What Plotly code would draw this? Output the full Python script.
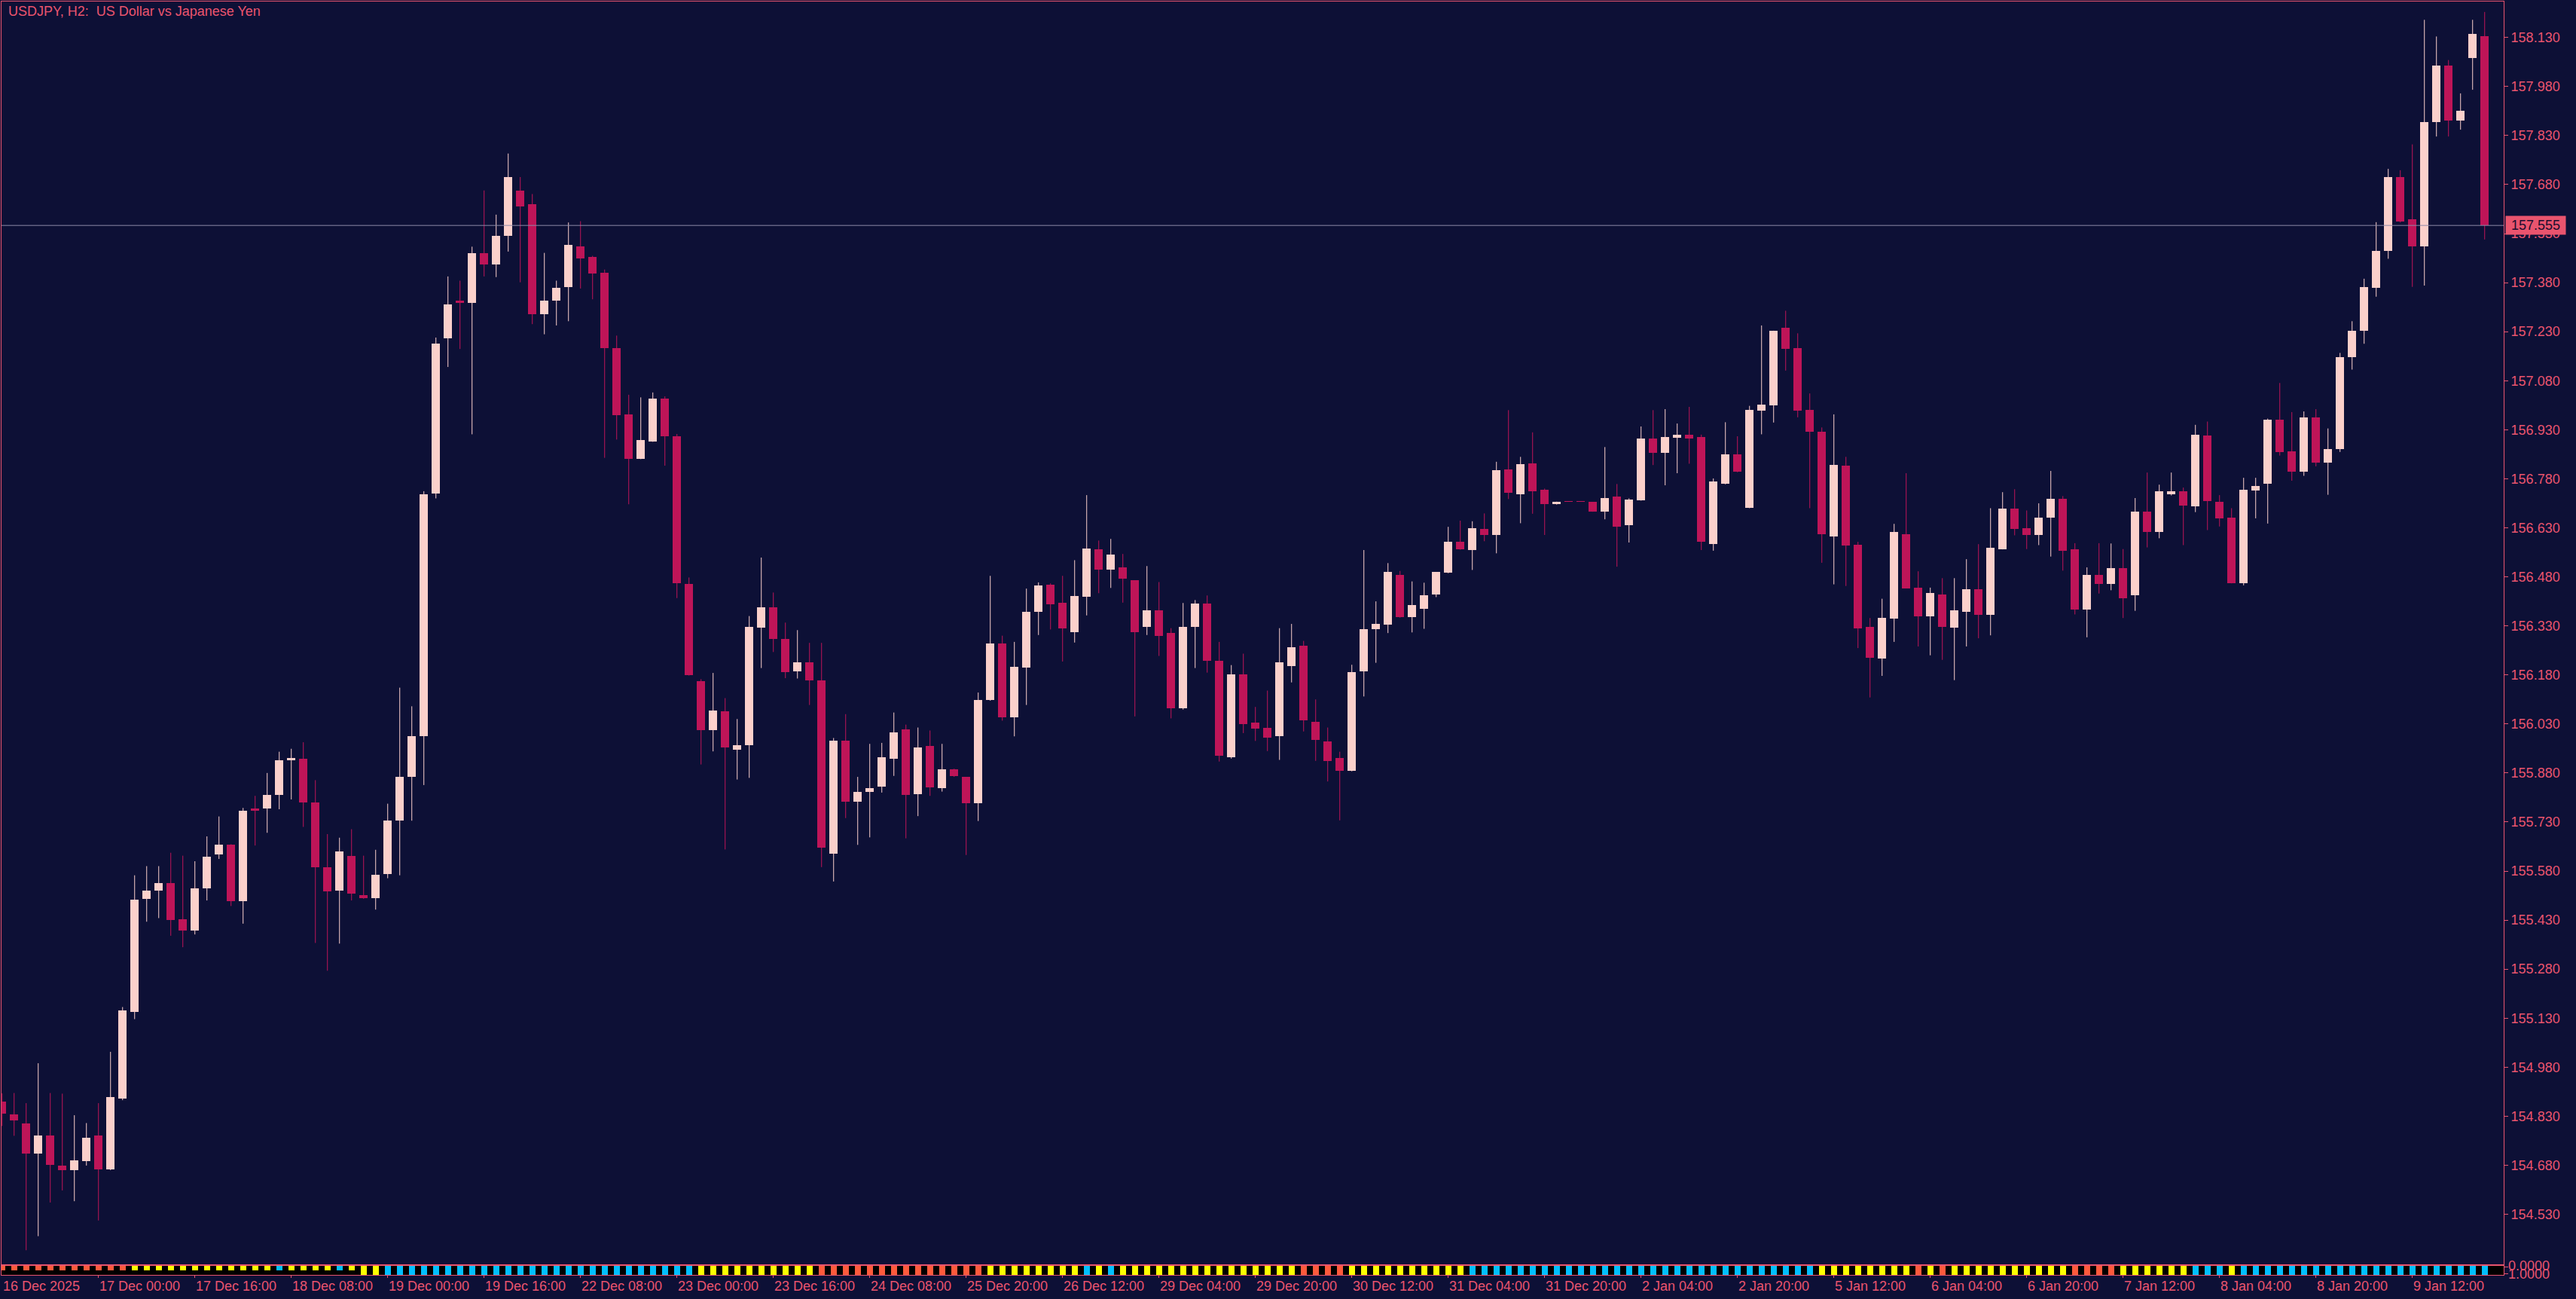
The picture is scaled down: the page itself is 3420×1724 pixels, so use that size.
import plotly.graph_objects as go

# ---------------- data ----------------
opens = [154.875, 154.835, 154.809, 154.716, 154.772, 154.679, 154.664, 154.692, 154.770, 154.668,
         154.885, 155.149, 155.495, 155.521, 155.543, 155.432, 155.399, 155.527, 155.630, 155.660,
         155.488, 155.771, 155.771, 155.812, 155.919, 155.924, 155.789, 155.591, 155.519, 155.627,
         155.506, 155.497, 155.571, 155.734, 155.869, 155.993, 156.735, 157.209, 157.325, 157.318,
         157.471, 157.436, 157.523, 157.662, 157.621, 157.283, 157.325, 157.366, 157.490, 157.458,
         157.410, 157.179, 156.977, 156.842, 156.895, 157.025, 156.909, 156.458, 156.160, 156.010,
         156.068, 155.952, 155.964, 156.325, 156.386, 156.291, 156.192, 156.218, 156.164, 155.632,
         155.978, 155.793, 155.823, 155.839, 155.924, 156.013, 155.816, 155.962, 155.834, 155.892,
         155.868, 155.787, 156.103, 156.276, 156.051, 156.203, 156.374, 156.455, 156.400, 156.311,
         156.418, 156.564, 156.501, 156.508, 156.469, 156.328, 156.377, 156.308, 156.079, 156.328,
         156.398, 156.224, 155.929, 156.181, 156.033, 156.018, 155.992, 156.206, 156.270, 156.037,
         155.976, 155.925, 155.887, 156.192, 156.319, 156.333, 156.485, 156.356, 156.382, 156.427,
         156.492, 156.587, 156.562, 156.626, 156.607, 156.808, 156.732, 156.828, 156.746, 156.702,
         156.709, 156.709, 156.709, 156.679, 156.725, 156.638, 156.714, 156.903, 156.859, 156.905,
         156.914, 156.907, 156.580, 156.764, 156.854, 156.691, 156.989, 157.005, 157.241, 157.179,
         156.990, 156.924, 156.604, 156.820, 156.577, 156.327, 156.230, 156.353, 156.610, 156.446,
         156.359, 156.427, 156.324, 156.374, 156.443, 156.364, 156.565, 156.689, 156.629, 156.607,
         156.662, 156.718, 156.565, 156.380, 156.486, 156.459, 156.506, 156.424, 156.679, 156.618,
         156.732, 156.742, 156.696, 156.912, 156.709, 156.661, 156.461, 156.745, 156.764, 156.961,
         156.864, 156.801, 156.967, 156.830, 156.870, 157.151, 157.233, 157.365, 157.476, 157.703,
         157.574, 157.490, 157.871, 158.045, 157.876, 158.067, 158.134]

highs = [154.900, 154.901, 154.870, 154.992, 154.901, 154.899, 154.833, 154.809, 154.870, 155.027,
         155.164, 155.567, 155.595, 155.595, 155.636, 155.627, 155.610, 155.686, 155.747, 155.662,
         155.773, 155.810, 155.880, 155.945, 155.954, 155.974, 155.858, 155.693, 155.682, 155.708,
         155.627, 155.645, 155.786, 156.141, 156.084, 156.742, 157.212, 157.399, 157.386, 157.490,
         157.662, 157.588, 157.775, 157.703, 157.651, 157.471, 157.386, 157.564, 157.568, 157.462,
         157.420, 157.218, 157.037, 157.029, 157.044, 157.032, 156.917, 156.478, 156.167, 156.186,
         156.109, 156.045, 156.360, 156.539, 156.432, 156.340, 156.317, 156.278, 156.278, 155.987,
         156.060, 155.868, 155.969, 155.972, 156.065, 156.028, 156.019, 156.010, 155.969, 155.893,
         155.868, 156.126, 156.483, 156.300, 156.281, 156.444, 156.463, 156.460, 156.483, 156.531,
         156.730, 156.591, 156.596, 156.550, 156.469, 156.513, 156.464, 156.323, 156.400, 156.409,
         156.423, 156.281, 156.210, 156.245, 156.082, 156.132, 156.323, 156.336, 156.284, 156.105,
         156.019, 155.945, 156.211, 156.562, 156.405, 156.522, 156.498, 156.466, 156.462, 156.495,
         156.633, 156.652, 156.650, 156.674, 156.832, 156.990, 156.847, 156.922, 156.750, 156.710,
         156.709, 156.709, 156.709, 156.877, 156.764, 156.720, 156.940, 156.990, 156.993, 156.949,
         157.000, 156.915, 156.781, 156.953, 156.910, 157.003, 157.249, 157.233, 157.294, 157.225,
         157.041, 156.937, 156.977, 156.847, 156.587, 156.354, 156.413, 156.642, 156.797, 156.497,
         156.447, 156.476, 156.476, 156.534, 156.580, 156.690, 156.739, 156.748, 156.683, 156.705,
         156.804, 156.727, 156.583, 156.509, 156.583, 156.582, 156.565, 156.721, 156.799, 156.762,
         156.799, 156.753, 156.945, 156.955, 156.730, 156.690, 156.783, 156.783, 156.964, 157.073,
         156.984, 156.986, 156.993, 156.934, 157.165, 157.262, 157.392, 157.565, 157.728, 157.724,
         157.803, 158.184, 158.133, 158.061, 157.959, 158.184, 158.208]

lows = [154.800, 154.770, 154.420, 154.463, 154.566, 154.603, 154.570, 154.679, 154.511, 154.665,
        154.879, 155.127, 155.425, 155.436, 155.382, 155.347, 155.386, 155.490, 155.617, 155.473,
        155.419, 155.658, 155.697, 155.769, 155.799, 155.715, 155.360, 155.275, 155.358, 155.490,
        155.495, 155.462, 155.558, 155.567, 155.734, 155.843, 156.720, 157.122, 157.177, 156.916,
        157.399, 157.397, 157.475, 157.381, 157.253, 157.222, 157.249, 157.262, 157.362, 157.329,
        156.844, 156.900, 156.702, 156.840, 156.893, 156.820, 156.415, 156.178, 155.906, 155.946,
        155.646, 155.860, 155.865, 156.201, 156.250, 156.170, 156.169, 156.088, 155.592, 155.548,
        155.742, 155.660, 155.683, 155.820, 155.871, 155.680, 155.748, 155.810, 155.823, 155.868,
        155.629, 155.733, 156.101, 156.040, 155.992, 156.088, 156.302, 156.319, 156.221, 156.279,
        156.362, 156.430, 156.446, 156.401, 156.053, 156.302, 156.238, 156.047, 156.074, 156.201,
        156.187, 155.915, 155.924, 156.002, 155.978, 155.947, 155.920, 156.157, 156.007, 155.917,
        155.854, 155.735, 155.885, 156.114, 156.217, 156.308, 156.355, 156.310, 156.321, 156.418,
        156.491, 156.563, 156.501, 156.589, 156.552, 156.718, 156.644, 156.673, 156.608, 156.701,
        156.709, 156.709, 156.679, 156.656, 156.511, 156.585, 156.713, 156.822, 156.760, 156.797,
        156.826, 156.562, 156.560, 156.763, 156.800, 156.690, 156.916, 156.952, 157.111, 156.968,
        156.690, 156.523, 156.457, 156.452, 156.262, 156.111, 156.177, 156.281, 156.445, 156.267,
        156.240, 156.226, 156.164, 156.267, 156.292, 156.301, 156.564, 156.607, 156.565, 156.577,
        156.542, 156.499, 156.365, 156.295, 156.429, 156.439, 156.354, 156.376, 156.570, 156.598,
        156.729, 156.577, 156.678, 156.623, 156.634, 156.460, 156.454, 156.659, 156.643, 156.851,
        156.774, 156.789, 156.818, 156.731, 156.862, 157.114, 157.193, 157.337, 157.453, 157.564,
        157.367, 157.371, 157.827, 157.827, 157.848, 157.970, 157.512]

closes = [154.838, 154.816, 154.716, 154.772, 154.681, 154.664, 154.694, 154.764, 154.668, 154.888,
          155.153, 155.493, 155.521, 155.543, 155.430, 155.399, 155.527, 155.623, 155.660, 155.488,
          155.765, 155.765, 155.812, 155.919, 155.926, 155.789, 155.591, 155.517, 155.641, 155.510,
          155.497, 155.569, 155.734, 155.869, 155.993, 156.733, 157.194, 157.314, 157.318, 157.471,
          157.436, 157.523, 157.703, 157.614, 157.283, 157.325, 157.364, 157.495, 157.455, 157.408,
          157.179, 156.974, 156.842, 156.898, 157.025, 156.909, 156.460, 156.180, 156.010, 156.070,
          155.959, 155.964, 156.328, 156.386, 156.291, 156.189, 156.218, 156.164, 155.652, 155.978,
          155.793, 155.823, 155.833, 155.927, 156.004, 155.814, 155.959, 155.837, 155.892, 155.871,
          155.787, 156.103, 156.276, 156.051, 156.204, 156.374, 156.453, 156.395, 156.323, 156.421,
          156.567, 156.502, 156.548, 156.475, 156.310, 156.377, 156.300, 156.079, 156.326, 156.398,
          156.224, 155.932, 156.181, 156.030, 156.016, 155.989, 156.218, 156.264, 156.042, 155.981,
          155.917, 155.887, 156.188, 156.321, 156.335, 156.495, 156.356, 156.393, 156.423, 156.495,
          156.587, 156.564, 156.628, 156.607, 156.806, 156.738, 156.824, 156.742, 156.702, 156.709,
          156.709, 156.709, 156.679, 156.720, 156.633, 156.716, 156.903, 156.859, 156.907, 156.914,
          156.903, 156.587, 156.771, 156.854, 156.801, 156.990, 157.006, 157.233, 157.177, 156.989,
          156.925, 156.611, 156.822, 156.576, 156.322, 156.232, 156.354, 156.617, 156.445, 156.359,
          156.430, 156.328, 156.377, 156.443, 156.364, 156.568, 156.689, 156.626, 156.607, 156.661,
          156.718, 156.559, 156.380, 156.486, 156.459, 156.506, 156.415, 156.679, 156.618, 156.742,
          156.742, 156.699, 156.914, 156.711, 156.659, 156.461, 156.746, 156.759, 156.961, 156.862,
          156.801, 156.967, 156.830, 156.870, 157.153, 157.233, 157.367, 157.477, 157.703, 157.567,
          157.490, 157.871, 158.045, 157.876, 157.906, 158.140, 157.555]

# indicator sub-window state per bar: R = red, Y = yellow, B = blue
strip_state = list(
    "RRRRRRRRRRR" "YYYYYYYYYYYY" "B" "YYYY" "B" "Y" "YY"
    "BBBBBBBBBBBBBBBBBBBBBBBBBB" "YYYYYYYYYY" "RRRRRRRRRRRRRR" "YYYYYYYY"
    "B" "Y" "B" "YYYYYYYYYYYYYYY" "RRRR" "YYYYYYYYYY"
    "BBBBBBBBBBBBBBBBBBBBBBBBBBBBB" "YYYYYYYY" "R" "Y" "R" "YYYYYYYYYY"
    "RRRR" "YYYYYY" "BBB" "Y" "BBBBBBBBBBBBBBBBBBBBB")
# first bars of the strip are only drawn in their upper half
strip_half = 30

x_label_pos = [0, 8, 16, 24, 32, 40, 48, 56, 64, 72, 80, 88, 96, 104, 112, 120, 128,
               136, 144, 152, 160, 168, 176, 184, 192, 200]
x_labels = ["16 Dec 2025", "17 Dec 00:00", "17 Dec 16:00", "18 Dec 08:00", "19 Dec 00:00",
            "19 Dec 16:00", "22 Dec 08:00", "23 Dec 00:00", "23 Dec 16:00", "24 Dec 08:00",
            "25 Dec 20:00", "26 Dec 12:00", "29 Dec 04:00", "29 Dec 20:00", "30 Dec 12:00",
            "31 Dec 04:00", "31 Dec 20:00", "2 Jan 04:00", "2 Jan 20:00", "5 Jan 12:00",
            "6 Jan 04:00", "6 Jan 20:00", "7 Jan 12:00", "8 Jan 04:00", "8 Jan 20:00",
            "9 Jan 12:00"]

y_ticks = [154.530, 154.680, 154.830, 154.980, 155.130, 155.280, 155.430, 155.580, 155.730,
           155.880, 156.030, 156.180, 156.330, 156.480, 156.630, 156.780, 156.930, 157.080,
           157.230, 157.380, 157.530, 157.680, 157.830, 157.980, 158.130]

last_price = 157.555
title_text = "USDJPY, H2:\u00a0 US Dollar vs Japanese Yen"

# ---------------- style ----------------
W, H = 3420, 1724
BG = "#0D1036"
FG = "#E9546E"
BULL = "#FBD0CB"
BEAR = "#BE1558"
STRIP_COL = {"R": "#FF5A3C", "Y": "#FFFF00", "B": "#00BFFF"}
FONT = "Liberation Sans"

ML, MR, MT, MB = 2, 96, 2, 32          # margins (px)
PLOT_H = H - MT - MB                     # 1690
MAIN_BOTTOM_PX = 1677.5
STRIP_TOP_PX = 1680


def paper_y(px):
    return (H - MB - px) / PLOT_H


n = len(opens)
idx = list(range(n))
is_bull = [c > o for o, c in zip(opens, closes)]

fig = go.Figure()

# wicks
for flag, col in ((True, BULL), (False, BEAR)):
    xs, ys = [], []
    for i in idx:
        if is_bull[i] == flag:
            xs += [i, i, None]
            ys += [lows[i], highs[i], None]
    fig.add_trace(go.Scatter(x=xs, y=ys, mode="lines", line=dict(color=col, width=1),
                             hoverinfo="skip", xaxis="x", yaxis="y"))

# bodies
body_base = [min(o, c) for o, c in zip(opens, closes)]
body_h = [max(abs(c - o), 0.0025) for o, c in zip(opens, closes)]
fig.add_trace(go.Bar(x=idx, y=body_h, base=body_base, width=0.68,
                     marker=dict(color=[BULL if b else BEAR for b in is_bull], line=dict(width=0)),
                     xaxis="x", yaxis="y", hoverinfo="skip"))

# indicator strip
strip_colors = [STRIP_COL[s] for s in strip_state]
strip_base = [0.5 if i < strip_half else 0.0 for i in idx]
strip_h = [0.5 if i < strip_half else 1.0 for i in idx]
fig.add_trace(go.Bar(x=idx, y=strip_h, base=strip_base, width=0.5,
                     marker=dict(color=strip_colors, line=dict(width=0)),
                     xaxis="x2", yaxis="y2", hoverinfo="skip"))

x_range = [-0.046, 207.58]

fig.update_layout(
    width=W, height=H,
    margin=dict(l=ML, r=MR, t=MT, b=MB, autoexpand=False),
    paper_bgcolor=BG, plot_bgcolor=BG,
    showlegend=False, barmode="overlay", bargap=0,
    xaxis=dict(domain=[0, 1], anchor="y", range=x_range, showgrid=False, zeroline=False,
               showticklabels=False, ticks="", showline=True, mirror=True,
               linecolor=FG, linewidth=1),
    yaxis=dict(domain=[paper_y(MAIN_BOTTOM_PX), 1], anchor="x", side="right",
               range=[154.378, 158.240], tickvals=y_ticks,
               ticktext=[f"{v:.3f}" for v in y_ticks], ticks="outside", ticklen=5,
               tickcolor=FG, tickwidth=1, tickfont=dict(family=FONT, size=18, color=FG),
               showgrid=False, zeroline=False, showline=True, mirror=True,
               linecolor=FG, linewidth=1),
    xaxis2=dict(domain=[0, 1], anchor="y2", range=x_range, showgrid=False, zeroline=False,
                showticklabels=False, tickvals=x_label_pos[1:], ticks="outside", ticklen=3,
                tickcolor=FG, showline=True, mirror=True, linecolor=FG, linewidth=1),
    yaxis2=dict(domain=[0, paper_y(STRIP_TOP_PX)], anchor="x2", side="right", range=[0, 1],
                showgrid=False, zeroline=False, showticklabels=False,
                tickvals=[0.15, 0.85], ticks="outside", ticklen=5, tickcolor=FG,
                showline=True, mirror=True, linecolor=FG, linewidth=1),
)

shapes = [
    dict(type="rect", xref="x2 domain", yref="y2 domain", x0=0, x1=1, y0=0, y1=1,
         fillcolor="#000000", line=dict(width=0), layer="below"),
    dict(type="line", xref="x domain", yref="y", x0=0, x1=1, y0=last_price, y1=last_price,
         line=dict(color="#8E8AA8", width=1)),
]
fig.update_layout(shapes=shapes)

ann = []
ann.append(dict(text=title_text, xref="paper", yref="paper", x=0, y=paper_y(15.5),
                xanchor="left", yanchor="middle", xshift=7, showarrow=False,
                font=dict(family=FONT, size=18, color=FG)))
for pos, lab in zip(x_label_pos, x_labels):
    ann.append(dict(text=lab, xref="x", yref="paper", x=pos, y=paper_y(1707),
                    xanchor="left", yanchor="middle", xshift=-1, showarrow=False,
                    font=dict(family=FONT, size=18, color=FG)))
ann.append(dict(text=f"{last_price:.3f}", xref="paper", yref="y", x=1, y=last_price,
                xanchor="left", yanchor="middle", xshift=2, showarrow=False,
                bgcolor=FG, borderpad=2, width=75,
                font=dict(family=FONT, size=18, color="#1A0E2E")))
ann.append(dict(text="0.0000", xref="paper", yref="paper", x=1, y=paper_y(1680),
                xanchor="left", yanchor="middle", xshift=4, showarrow=False,
                font=dict(family=FONT, size=18, color=FG)))
ann.append(dict(text="1.0000", xref="paper", yref="paper", x=1, y=paper_y(1691),
                xanchor="left", yanchor="middle", xshift=4, showarrow=False,
                font=dict(family=FONT, size=18, color=FG)))
fig.update_layout(annotations=ann)

fig.write_html("out.html",
               config={"displayModeBar": False, "staticPlot": True},
               post_script="document.body.style.margin='0px';document.body.style.overflow='hidden';")
